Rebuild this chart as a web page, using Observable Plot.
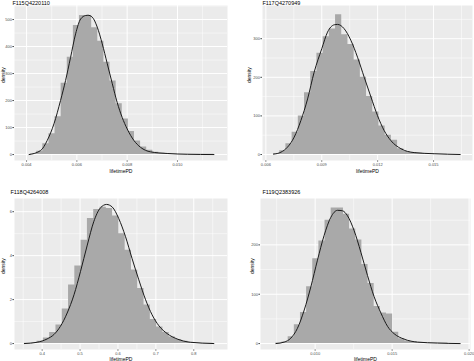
<!DOCTYPE html>
<html><head><meta charset="utf-8">
<script src="https://cdn.jsdelivr.net/npm/d3@7"></script>
<script src="https://cdn.jsdelivr.net/npm/@observablehq/plot@0.6"></script>
<style>
body{margin:0;background:#fff;}
#wrap{position:relative;width:474px;height:361px;overflow:hidden;}
.p{position:absolute;}
</style></head><body><div id="wrap"></div>
<script>
const titles = ["F115Q4220110", "F117Q4270949", "F118Q4264008", "F119Q2383926"];
const xTitle = "lifetimePD";
const yTitle = "density";

// Panel 1
const p1BinStart = 0.00416, p1BinWidth = 0.000243;
const p1Counts = [2,12,40,77,140,264,360,478,515,515,470,420,342,272,188,132,85,50,28,16,9,5,3,2,1,1,1,1,1,1];
const p1CurveX = [0.00410,0.00456,0.00482,0.00509,0.00535,0.00555,0.00575,0.00595,0.00615,0.00635,0.00644,0.00661,0.00681,0.00701,0.00721,0.00741,0.00760,0.00780,0.00800,0.00827,0.00853,0.00893,0.00959,0.01039,0.01145];
const p1CurveY = [0,15,52,114,200,274,360,447,502,515,516,509,472,410,336,262,194,138,95,52,27,10,4,1,0];
const p1XTicks = [0.004,0.006,0.008,0.010], p1XMinor = [0.005,0.007,0.009,0.011];
const p1YTicks = [0,100,200,300,400,500], p1YMinor = [50,150,250,350,450,550];

// Panel 2
const p2BinStart = 0.00641, p2BinWidth = 0.000333;
const p2Counts = [2,10,28,58,100,160,215,262,305,325,362,310,285,245,200,150,110,74,50,37,15,8,5,3,2,1,1,1,0,0];
const p2CurveX = [0.00641,0.00681,0.00716,0.00752,0.00788,0.00824,0.00859,0.00900,0.00931,0.00967,0.00985,0.01020,0.01056,0.01092,0.01128,0.01164,0.01199,0.01235,0.01271,0.01325,0.01396,0.01503,0.01643];
const p2CurveY = [1,6,19,45,88,144,213,274,317,336,337,326,296,252,200,149,101,62,36,15,5,2,0];
const p2XTicks = [0.006,0.009,0.012,0.015], p2XMinor = [0.0075,0.0105,0.0135,0.0165];
const p2YTicks = [0,100,200,300], p2YMinor = [50,150,250,350];

// Panel 3
const p3BinStart = 0.3534, p3BinWidth = 0.0166;
const p3Counts = [0.01,0.03,0.1,0.25,0.5,0.85,1.57,2.67,3.53,4.7,5.69,6.1,6.2,6.15,5.8,5.0,4.25,3.35,2.5,1.75,1.1,0.75,0.5,0.3,0.18,0.1,0.05,0.03,0.01,0.01];
const p3CurveX = [0.353,0.387,0.413,0.431,0.448,0.466,0.484,0.501,0.519,0.536,0.554,0.570,0.585,0.602,0.620,0.637,0.655,0.673,0.690,0.708,0.730,0.756,0.791,0.853];
const p3CurveY = [0,0.06,0.21,0.41,0.78,1.39,2.22,3.27,4.48,5.54,6.18,6.33,6.21,5.69,4.86,3.88,2.90,1.99,1.31,0.81,0.45,0.21,0.06,0];
const p3XTicks = [0.4,0.5,0.6,0.7,0.8], p3XMinor = [0.35,0.45,0.55,0.65,0.75,0.85];
const p3YTicks = [0,2,4,6], p3YMinor = [1,3,5];

// Panel 4
const p4BinStart = 0.00745, p4BinWidth = 0.000399;
const p4Counts = [1,3,14,38,63,115,172,208,250,275,275,262,232,210,160,122,75,62,60,23,10,5,3,2,1,1,1,1,0,0];
const p4CurveX = [0.00745,0.00799,0.00842,0.00885,0.00929,0.00972,0.01015,0.01058,0.01102,0.01145,0.01178,0.01210,0.01253,0.01297,0.01340,0.01383,0.01427,0.01470,0.01513,0.01578,0.01665,0.01795,0.01942];
const p4CurveY = [0,3,11,31,68,115,169,219,256,270,269,259,229,185,138,95,62,35,20,9,3,1,0];
const p4XTicks = [0.010,0.015,0.020], p4XMinor = [0.0075,0.0125,0.0175];
const p4YTicks = [0,100,200], p4YMinor = [50,150,250];

// histogram outline as steps: one point per bin start plus the closing edge
function steps(start, w, counts){
  const s = counts.map((h,i)=>({x:start+i*w, h}));
  s.push({x:start+counts.length*w, h:0});
  return s;
}
function pts(xs, ys){ return xs.map((x,i)=>({x, y: ys[i]})); }

const panels = [
  {left:0, top:0, h:180, ml:14, mr:10, mt:5, mb:20, xd:[0.00352,0.01199], yd:[-22,552],
   bars:steps(p1BinStart,p1BinWidth,p1Counts), curve:pts(p1CurveX,p1CurveY),
   xt:p1XTicks, xm:p1XMinor, yt:p1YTicks, ym:p1YMinor, xf:d3.format(".3f"), yf:d3.format("d"),
   tdx:-2, tdy:-1, xdy:10.5, ydx:-11.5, title:titles[0]},
  {left:237, top:0, h:180, ml:25, mr:2, mt:5, mb:20, xd:[0.00582,0.01709], yd:[-15.5,386],
   bars:steps(p2BinStart,p2BinWidth,p2Counts), curve:pts(p2CurveX,p2CurveY),
   xt:p2XTicks, xm:p2XMinor, yt:p2YTicks, ym:p2YMinor, xf:d3.format(".3f"), yf:d3.format("d"),
   tdx:0, tdy:-1, xdy:10.5, ydx:-13.5, title:titles[1]},
  {left:0, top:180, h:181, ml:14, mr:10, mt:18, mb:12, xd:[0.327,0.889], yd:[-0.27,6.6],
   bars:steps(p3BinStart,p3BinWidth,p3Counts), curve:pts(p3CurveX,p3CurveY),
   xt:p3XTicks, xm:p3XMinor, yt:p3YTicks, ym:p3YMinor, xf:d3.format(".1f"), yf:d3.format("d"),
   tdx:-4, tdy:-5, xdy:10, ydx:-11.5, title:titles[2]},
  {left:237, top:180, h:181, ml:23, mr:4, mt:18, mb:12, xd:[0.00645,0.02009], yd:[-12,294],
   bars:steps(p4BinStart,p4BinWidth,p4Counts), curve:pts(p4CurveX,p4CurveY),
   xt:p4XTicks, xm:p4XMinor, yt:p4YTicks, ym:p4YMinor, xf:d3.format(".3f"), yf:d3.format("d"),
   tdx:2, tdy:-5, xdy:10, ydx:-8, title:titles[3]}
];

const wrap = document.getElementById("wrap");
for (const c of panels) {
  const chart = Plot.plot({
    width: 237, height: c.h,
    marginLeft: c.ml, marginRight: c.mr, marginTop: c.mt, marginBottom: c.mb,
    style: "font-family: 'Liberation Sans', Arial, sans-serif; font-size: 4px; color: #4d4d4d; background: transparent; overflow: visible;",
    x: {domain: c.xd, ticks: c.xt, tickFormat: c.xf, tickSize: 1.6, tickPadding: 0.8, label: null},
    y: {domain: c.yd, ticks: c.yt, tickFormat: c.yf, tickSize: 1.6, tickPadding: 1, label: null},
    marks: [
      Plot.frame({fill: "#ebebeb", stroke: "none"}),
      Plot.ruleX(c.xm, {stroke: "#fff", strokeWidth: 0.5}),
      Plot.ruleY(c.ym, {stroke: "#fff", strokeWidth: 0.5}),
      Plot.ruleX(c.xt, {stroke: "#fff", strokeWidth: 1}),
      Plot.ruleY(c.yt, {stroke: "#fff", strokeWidth: 1}),
      Plot.area(c.bars, {x1: "x", y1: d => 0, y2: "h", curve: "step-after", fill: "#a9a9a9"}),
      Plot.line(c.curve, {x: "x", y: "y", stroke: "#1a1a1a", strokeWidth: 1, curve: "monotone-x"}),
      Plot.text([c.title], {frameAnchor: "top-left", text: d => d, textAnchor: "start", lineAnchor: "bottom", dx: c.tdx, dy: c.tdy, fontSize: 5.5, fill: "#000"}),
      Plot.text([xTitle], {frameAnchor: "bottom", text: d => d, lineAnchor: "middle", dy: c.xdy, fontSize: 5, fill: "#000"}),
      Plot.text([yTitle], {frameAnchor: "left", text: d => d, rotate: -90, dx: c.ydx, fontSize: 5, fill: "#000"})
    ]
  });
  const div = document.createElement("div");
  div.className = "p";
  div.style.left = c.left + "px";
  div.style.top = c.top + "px";
  div.appendChild(chart);
  wrap.appendChild(div);
}
</script></body></html>
